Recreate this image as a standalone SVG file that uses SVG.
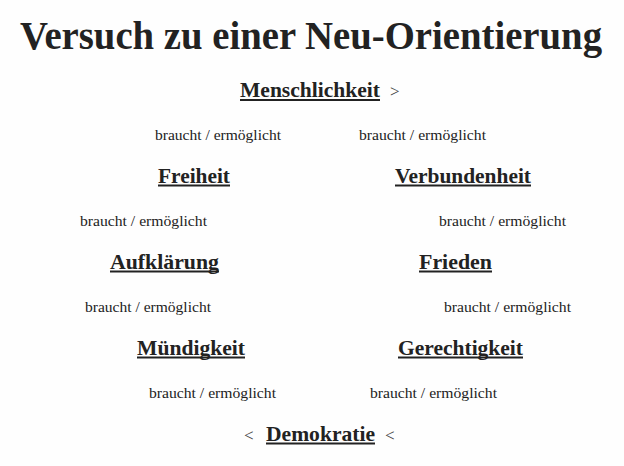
<svg xmlns="http://www.w3.org/2000/svg" width="624" height="466" viewBox="0 0 624 466" font-family="'Liberation Serif', 'Times New Roman', Times, serif">
<style>
text{font-family:'Liberation Serif', Times, serif;fill:#222}
.t{font-size:39px;font-weight:bold}
.n{font-size:21px;font-weight:bold}
.e{font-size:15px}
.a{font-size:17px;fill:#444}
.u{stroke:#222;stroke-width:1.8}
</style>
<rect width="624" height="466" fill="#fefefe"/>
<text class="t" x="20" y="49" textLength="582" lengthAdjust="spacingAndGlyphs">Versuch zu einer Neu-Orientierung</text>
<g id="menschlichkeit"><text class="n" x="240" y="97" textLength="140" lengthAdjust="spacingAndGlyphs">Menschlichkeit</text><line class="u" x1="240" y1="100" x2="380" y2="100"/></g>
<g id="freiheit"><text class="n" x="158" y="182.5" textLength="72" lengthAdjust="spacingAndGlyphs">Freiheit</text><line class="u" x1="158" y1="185.5" x2="230" y2="185.5"/></g>
<g id="verbundenheit"><text class="n" x="395" y="182.5" textLength="136" lengthAdjust="spacingAndGlyphs">Verbundenheit</text><line class="u" x1="395" y1="185.5" x2="531" y2="185.5"/></g>
<g id="aufklaerung"><text class="n" x="110" y="268.5" textLength="109" lengthAdjust="spacingAndGlyphs">Aufklärung</text><line class="u" x1="110" y1="271.5" x2="219" y2="271.5"/></g>
<g id="frieden"><text class="n" x="419" y="268.5" textLength="73" lengthAdjust="spacingAndGlyphs">Frieden</text><line class="u" x1="419" y1="271.5" x2="492" y2="271.5"/></g>
<g id="muendigkeit"><text class="n" x="137" y="354.5" textLength="108" lengthAdjust="spacingAndGlyphs">Mündigkeit</text><line class="u" x1="137" y1="357.5" x2="245" y2="357.5"/></g>
<g id="gerechtigkeit"><text class="n" x="398" y="354.5" textLength="125" lengthAdjust="spacingAndGlyphs">Gerechtigkeit</text><line class="u" x1="398" y1="357.5" x2="523" y2="357.5"/></g>
<g id="demokratie"><text class="n" x="266" y="440.5" textLength="109" lengthAdjust="spacingAndGlyphs">Demokratie</text><line class="u" x1="266" y1="443.5" x2="375" y2="443.5"/></g>
<g id="connectors">
<text class="a" x="390" y="97">&gt;</text>
<text class="a" x="244" y="440.5">&lt;</text>
<text class="a" x="385" y="440.5">&lt;</text>
<text class="e" x="155" y="139.5" textLength="126" lengthAdjust="spacingAndGlyphs">braucht / ermöglicht</text>
<text class="e" x="359" y="139.5" textLength="127" lengthAdjust="spacingAndGlyphs">braucht / ermöglicht</text>
<text class="e" x="80" y="225.5" textLength="127" lengthAdjust="spacingAndGlyphs">braucht / ermöglicht</text>
<text class="e" x="439" y="225.5" textLength="127" lengthAdjust="spacingAndGlyphs">braucht / ermöglicht</text>
<text class="e" x="85" y="311.5" textLength="126" lengthAdjust="spacingAndGlyphs">braucht / ermöglicht</text>
<text class="e" x="444" y="311.5" textLength="127" lengthAdjust="spacingAndGlyphs">braucht / ermöglicht</text>
<text class="e" x="149" y="397.5" textLength="127" lengthAdjust="spacingAndGlyphs">braucht / ermöglicht</text>
<text class="e" x="370" y="397.5" textLength="127" lengthAdjust="spacingAndGlyphs">braucht / ermöglicht</text>
</g>
</svg>
